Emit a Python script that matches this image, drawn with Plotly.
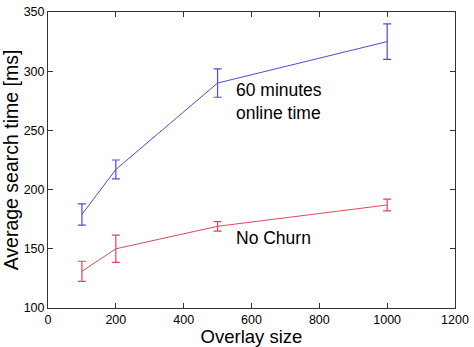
import plotly.graph_objects as go

overlay_size = [100, 200, 500, 1000]
churn60_mean = [179, 217, 290, 325]
churn60_err = [9, 8, 12, 15]
nochurn_mean = [131, 150, 169, 187]
nochurn_err = [8.5, 11.5, 4, 5]

x_ticks = [0, 200, 400, 600, 800, 1000, 1200]
y_ticks = [100, 150, 200, 250, 300, 350]

blue = "#4b4bdf"
red = "#e2475a"
font_family = "Liberation Sans, Arial, Helvetica, sans-serif"

fig = go.Figure()
fig.add_trace(go.Scatter(
    x=overlay_size, y=churn60_mean, mode="lines",
    line=dict(color=blue, width=1),
    error_y=dict(type="data", array=churn60_err, visible=True,
                 color=blue, thickness=1.2, width=4),
    showlegend=False))
fig.add_trace(go.Scatter(
    x=overlay_size, y=nochurn_mean, mode="lines",
    line=dict(color=red, width=1),
    error_y=dict(type="data", array=nochurn_err, visible=True,
                 color=red, thickness=1.2, width=4),
    showlegend=False))

fig.add_annotation(x=548, y=274.5, text="60 minutes<br>online time", showarrow=False,
                   xanchor="left", yanchor="middle", align="left",
                   font=dict(size=17.5, color="black", family=font_family))
fig.add_annotation(x=548, y=159.5, text="No Churn", showarrow=False,
                   xanchor="left", yanchor="middle", align="left",
                   font=dict(size=17.5, color="black", family=font_family))

axis_common = dict(showline=True, linecolor="#333333", linewidth=1, mirror="ticks",
                   ticks="inside", ticklen=5, tickcolor="#333333",
                   showgrid=False, zeroline=False, ticklabeloverflow="allow",
                   tickfont=dict(size=12.5, color="black", family=font_family))

fig.update_xaxes(range=[0, 1200], tickvals=x_ticks,
                 title=dict(text="Overlay size", standoff=2,
                            font=dict(size=18.5, color="black", family=font_family)),
                 **axis_common)
fig.update_yaxes(range=[100, 350], tickvals=y_ticks,
                 title=dict(text="Average search time [ms]", standoff=3,
                            font=dict(size=19.5, color="black", family=font_family)),
                 **axis_common)

fig.update_layout(width=474, height=347,
                  margin=dict(l=48, r=13, t=5, b=37),
                  paper_bgcolor="white", plot_bgcolor="white")

fig.write_html("out.html")
